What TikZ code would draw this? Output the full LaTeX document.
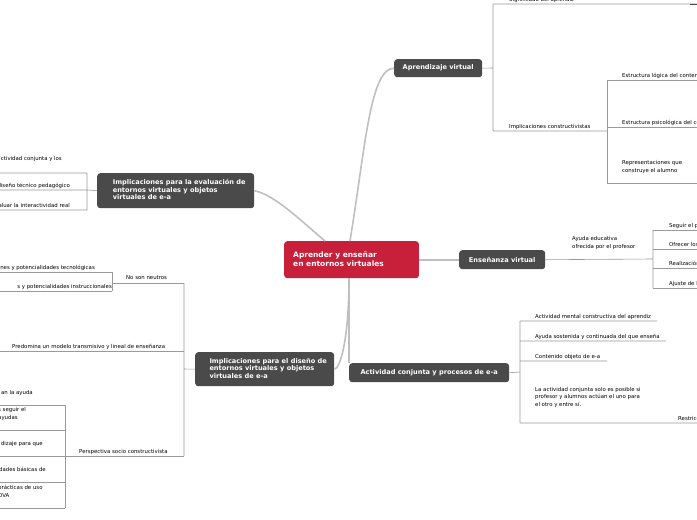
\documentclass[tikz,border=0pt]{standalone}
\usepackage{fontspec}
\setmainfont{DejaVu Sans}
\definecolor{dk}{HTML}{4A4A4A}
\definecolor{rd}{HTML}{C8203A}
\definecolor{ln}{HTML}{9A9A9A}
\begin{document}
\begin{tikzpicture}[x=1pt,y=-1pt,
 mainbox/.style={fill=dk,text=white,rounded corners=3pt,font=\fontsize{6.6}{7.6}\selectfont\bfseries,align=left,inner sep=0pt,anchor=north west},
 lbl/.style={font=\fontsize{5.4}{7.4}\selectfont,align=left,inner sep=0pt,anchor=base west},
 lble/.style={lbl,anchor=base east},
 br/.style={draw=ln,line width=0.6pt},
 cn/.style={draw=black!25,line width=1.6pt}]
\useasboundingbox (0,0) rectangle (697,520);
\clip (0,0) rectangle (697,520);
% center
\node[mainbox,fill=rd,minimum height=37,font=\fontsize{7.5}{9}\selectfont\bfseries] (c) at (284,241) {\hspace*{9pt}\begin{tabular}{@{}l@{}}Aprender y enseñar\\en entornos virtuales\end{tabular}\hspace*{35pt}};
\node[mainbox,minimum width=88,minimum height=18,align=center] (av) at (394,59) {Aprendizaje virtual};
\node[mainbox,minimum width=86,minimum height=19,align=center] (ev) at (459,250) {Enseñanza virtual};
\node[mainbox,minimum width=160,minimum height=19,align=center] (ac) at (349,363) {Actividad conjunta y procesos de e-a};
\node[mainbox,minimum width=139,minimum height=34] (di) at (195,352) {\hspace*{7pt}\begin{tabular}{@{}l@{}}Implicaciones para el diseño de\\entornos virtuales y objetos\\virtuales de e-a\end{tabular}};
\node[mainbox,minimum width=157,minimum height=35] (ee) at (97,173) {\hspace*{7pt}\begin{tabular}{@{}l@{}}Implicaciones para la evaluación de\\entornos virtuales y objetos\\virtuales de e-a\end{tabular}};
% central connectors
\draw[cn] (350,241) .. controls (365,150) and (370,68) .. (av.west);
\draw[cn] (325,241) .. controls (300,220) and (275,195) .. (ee.east);
\draw[cn] (c.east) -- (ev.west);
\draw[cn] (349,278) -- (ac.north west);
\draw[cn] (349,278) .. controls (349,340) and (340,369) .. (di.east);
% Aprendizaje virtual
\draw[br] (av.east) -- (493,68) (493,4) -- (493,131) (493,4) -- (697,4) (493,131) -- (607,131);
\draw[dk,line width=1pt] (690,4) -- (697,4);
\node[lbl] (a1) at (509,1) {Significado del aprendiz};
\node[lbl] (a2) at (509,128) {Implicaciones constructivistas};
\draw[br] (607,80) -- (607,183) (607,80) -- (697,80) (607,127) -- (697,127) (607,183) -- (697,183);
\node[lbl] (a3) at (622,77) {Estructura lógica del contenido};
\node[lbl] (a4) at (622,124) {Estructura psicológica del contenido};
\node[lbl] (a5) at (622,172) {Representaciones que\\construye el alumno};
% Enseñanza
\draw[br] (ev.east) -- (653,259) (653,230) -- (653,288);
\foreach \y in {230,249,268,288} \draw[br] (653,\y) -- (697,\y);
\node[lbl] (e0) at (572,248) {Ayuda educativa\\ofrecida por el profesor};
\node[lbl] (e1) at (669,227) {Seguir el proceso};
\node[lbl] (e2) at (669,246) {Ofrecer los recursos};
\node[lbl] (e3) at (669,265) {Realización};
\node[lbl] (e4) at (669,285) {Ajuste de la ayuda};
% Actividad conjunta
\draw[br] (ac.east) -- (520,372) (520,321) -- (520,423) (520,321) -- (657,321) (520,341) -- (666,341) (520,361) -- (607,361) (520,423) -- (697,423);
\node[lbl] (k1) at (535,318) {Actividad mental constructiva del aprendiz};
\node[lbl] (k2) at (535,338) {Ayuda sostenida y continuada del que enseña};
\node[lbl] (k3) at (535,358) {Contenido objeto de e-a};
\node[lbl] (k4) at (535,406) {La actividad conjunta solo es posible si\\profesor y alumnos actúan el uno para\\el otro y entre sí.};
\node[lbl] (k5) at (678,420) {Restricciones};
% Evaluacion
\draw[br] (ee.west) -- (87,190) (87,173) -- (87,210) (0,173) -- (87,173) (0,190) -- (87,190) (0,210) -- (87,210);
\node[lble] (v1) at (62,160) {ctividad conjunta y los};
\node[lble] (v2) at (70,187) {diseño técnico pedagógico};
\node[lble] (v3) at (70,207) {aluar la interactividad real};
% Diseño
\draw[br] (di.west) -- (184,369) (184,283) -- (184,456);
\draw[br] (112,283) -- (184,283) (112,272) -- (112,291) (0,272) -- (112,272) (0,291) -- (112,291);
\node[lbl] (d1) at (126,279) {No son neutros};
\node[lble] (d2) at (95,269) {nes y potencialidades tecnológicas};
\node[lble] (d3) at (112,288) {s y potencialidades instruccionales};
\draw[br] (0,351) -- (184,351);
\node[lbl] (d4) at (12,348) {Predomina un modelo transmisivo y lineal de enseñanza};
\draw[br] (65,456) -- (184,456) (65,405) -- (65,508);
\foreach \y in {405,430,456,482,508} \draw[br] (0,\y) -- (65,\y);
\node[lbl] (d5) at (79,453) {Perspectiva socio constructivista};
\node[lble] (d6) at (33,394) {an la ayuda};
\node[lbl] (d7) at (-2,419) {s seguir el\\ayudas};
\node[lble] (d8) at (43,445) {dizaje para que};
\node[lble] (d9) at (46,471) {dades básicas de};
\node[lbl] (d10) at (-2,497) {prácticas de uso\\OVA};
\end{tikzpicture}
\end{document}
